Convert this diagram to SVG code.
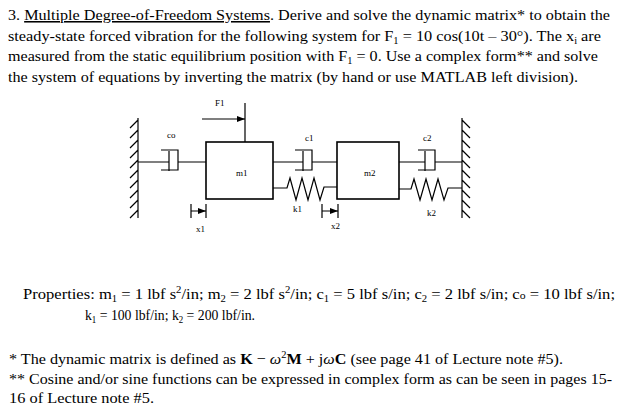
<svg xmlns="http://www.w3.org/2000/svg" width="631" height="413" viewBox="0 0 631 413">
<style>
.t{font-family:"Liberation Serif",serif;font-size:15.5px;fill:#000}
.s{font-family:"Liberation Serif",serif;font-size:9px;fill:#000}
.l{stroke:#000;stroke-width:1.2;fill:none}
.b{stroke:#000;stroke-width:1.6;fill:#fff}
</style>
<defs>
<marker id="ah" markerWidth="8" markerHeight="6" refX="8" refY="3" orient="auto" markerUnits="userSpaceOnUse"><path d="M0,0L8,3L0,6z" fill="#000"/></marker>
</defs>
<g id="text">
<text class="t" x="8" y="20" textLength="602" lengthAdjust="spacingAndGlyphs">3. <tspan text-decoration="underline">Multiple Degree-of-Freedom Systems</tspan>.  Derive and solve the dynamic matrix* to obtain the</text>
<text class="t" x="8" y="41" textLength="593" lengthAdjust="spacingAndGlyphs">steady-state forced vibration for the following system for F<tspan font-size="10" dy="3">1</tspan><tspan dy="-3"> = 10 cos(10t – 30°).  The x</tspan><tspan font-size="10" dy="3">i</tspan><tspan dy="-3"> are</tspan></text>
<text class="t" x="8" y="61" textLength="590" lengthAdjust="spacingAndGlyphs">measured from the static equilibrium position with F<tspan font-size="10" dy="3">1</tspan><tspan dy="-3"> = 0.  Use a complex form** and solve</tspan></text>
<text class="t" x="8" y="82" textLength="570" lengthAdjust="spacingAndGlyphs">the system of equations by inverting the matrix (by hand or use MATLAB left division).</text>
<text class="t" x="23" y="299" textLength="592" lengthAdjust="spacingAndGlyphs">Properties:  m<tspan font-size="10" dy="3">1</tspan><tspan dy="-3"> = 1 lbf s</tspan><tspan font-size="10" dy="-6">2</tspan><tspan dy="6">/in; m</tspan><tspan font-size="10" dy="3">2</tspan><tspan dy="-3"> = 2 lbf s</tspan><tspan font-size="10" dy="-6">2</tspan><tspan dy="6">/in; c</tspan><tspan font-size="10" dy="3">1</tspan><tspan dy="-3"> = 5 lbf s/in; c</tspan><tspan font-size="10" dy="3">2</tspan><tspan dy="-3"> = 2 lbf s/in; c</tspan><tspan font-size="11">o</tspan> = 10 lbf s/in;</text>
<text class="t" x="85" y="320" textLength="170" lengthAdjust="spacingAndGlyphs">k<tspan font-size="10" dy="3">1</tspan><tspan dy="-3"> = 100 lbf/in; k</tspan><tspan font-size="10" dy="3">2</tspan><tspan dy="-3"> = 200 lbf/in.</tspan></text>
<text class="t" x="9" y="364" textLength="554" lengthAdjust="spacingAndGlyphs">* The dynamic matrix is defined as <tspan font-weight="bold">K</tspan> − <tspan font-style="italic">ω</tspan><tspan font-size="10" dy="-6">2</tspan><tspan dy="6" font-weight="bold">M</tspan> + j<tspan font-style="italic">ω</tspan><tspan font-weight="bold">C</tspan> (see page 41 of Lecture note #5).</text>
<text class="t" x="9" y="384" textLength="603" lengthAdjust="spacingAndGlyphs">** Cosine and/or sine functions can be expressed in complex form as can be seen in pages 15-</text>
<text class="t" x="9" y="403" textLength="145" lengthAdjust="spacingAndGlyphs">16 of Lecture note #5.</text>
</g>
<g id="wall-left">
<path class="l" d="M138,118V218M130,128l8,-8M130,138l8,-8M130,148l8,-8M130,158l8,-8M130,168l8,-8M130,178l8,-8M130,188l8,-8M130,198l8,-8M130,208l8,-8M130,218l8,-8"/>
</g>
<g id="wall-right">
<path class="l" d="M462,118V218M462,120l8,8M462,130l8,8M462,140l8,8M462,150l8,8M462,160l8,8M462,170l8,8M462,180l8,8M462,190l8,8M462,200l8,8M462,210l8,8"/>
</g>
<g id="m1"><rect class="b" x="206" y="142" width="67" height="57"/><text class="s" x="236" y="176">m1</text></g>
<g id="m2"><rect class="b" x="337" y="142" width="62" height="57"/><text class="s" x="364" y="176">m2</text></g>
<g id="connectors">
<path class="l" d="M138,162H169M169,151V171M161,150H178V170H161M178,162H206"/>
<path class="l" d="M273,162H303M303,151V171M295,150H312V170H295M312,162H337"/>
<path class="l" d="M399,162H425M425,151V171M418,150H435V170H418M435,162H462"/>
<path class="l" d="M273,188H287L290,178L296,200L302,178L308,200L314,178L320,200L324,187H337"/>
<path class="l" d="M399,189H411L414,179L420,200L426,179L432,200L438,179L444,200L448,188H462"/>
<path class="l" d="M245,103V142M202,119H245" marker-end="url(#ah)"/>
<path class="l" d="M191,204V218M191,211H206" marker-end="url(#ah)"/>
<path class="l" d="M322,204V218M322,211H338" marker-end="url(#ah)"/>
<path class="l" d="M206,204V218M338,204V218"/>
</g>
<g id="labels">
<text class="s" x="215" y="106">F1</text>
<text class="s" x="167" y="138">co</text>
<text class="s" x="305" y="141">c1</text>
<text class="s" x="423" y="141">c2</text>
<text class="s" x="293" y="212">k1</text>
<text class="s" x="427" y="216">k2</text>
<text class="s" x="196" y="232">x1</text>
<text class="s" x="331" y="229">x2</text>
</g>
</svg>
